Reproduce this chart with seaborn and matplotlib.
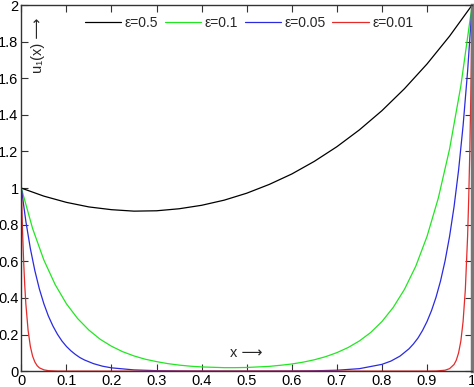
import matplotlib
matplotlib.use("Agg")
import matplotlib.pyplot as plt
import numpy as np
import pandas as pd
import seaborn as sns

# values
x_05 = [0.0, 0.05, 0.1, 0.15, 0.2, 0.25, 0.3, 0.35, 0.4, 0.45, 0.5,
        0.55, 0.6, 0.65, 0.7, 0.75, 0.8, 0.85, 0.9, 0.95, 1.0]
u_05 = [1.000, 0.956, 0.922, 0.897, 0.882, 0.874, 0.876, 0.887, 0.906, 0.934, 0.972,
        1.020, 1.077, 1.146, 1.226, 1.318, 1.423, 1.543, 1.678, 1.830, 2.000]

x_01 = [0.0, 0.025, 0.05, 0.075, 0.1, 0.125, 0.15, 0.175, 0.2, 0.225, 0.25,
        0.275, 0.3, 0.325, 0.35, 0.375, 0.4, 0.425, 0.45, 0.475, 0.5,
        0.525, 0.55, 0.575, 0.6, 0.625, 0.65, 0.675, 0.7, 0.725, 0.75,
        0.775, 0.8, 0.825, 0.85, 0.875, 0.9, 0.925, 0.95, 0.975, 1.0]
u_01 = [1.000, 0.779, 0.607, 0.473, 0.368, 0.287, 0.224, 0.174, 0.136, 0.106, 0.083,
        0.065, 0.052, 0.041, 0.033, 0.027, 0.023, 0.021, 0.019, 0.019, 0.020,
        0.023, 0.026, 0.032, 0.039, 0.049, 0.062, 0.079, 0.101, 0.129, 0.165,
        0.211, 0.271, 0.348, 0.447, 0.573, 0.736, 0.945, 1.213, 1.558, 2.000]

x_005 = [0.0, 0.01, 0.02, 0.03, 0.04, 0.05, 0.06, 0.07, 0.08, 0.09, 0.1, 0.11, 0.12,
         0.13, 0.14, 0.16, 0.18, 0.2,
         0.25, 0.3, 0.35, 0.4, 0.45, 0.5, 0.55, 0.6, 0.65, 0.7, 0.75,
         0.8, 0.82, 0.84, 0.86, 0.87, 0.88, 0.89, 0.9, 0.91, 0.92, 0.93, 0.94,
         0.95, 0.96, 0.97, 0.98, 0.99, 1.0]
u_005 = [1.000, 0.819, 0.670, 0.549, 0.449, 0.368, 0.301, 0.247, 0.202, 0.165, 0.135, 0.111, 0.091,
         0.074, 0.061, 0.041, 0.027, 0.018,
         0.0067, 0.0025, 0.0009, 0.0004, 0.0002, 0.0001, 0.0003, 0.0007, 0.0018, 0.0050, 0.0135,
         0.037, 0.055, 0.082, 0.122, 0.149, 0.181, 0.222, 0.271, 0.331, 0.404, 0.493, 0.602,
         0.736, 0.899, 1.098, 1.341, 1.638, 2.000]

x_001 = [0.0, 0.0025, 0.005, 0.0075, 0.01, 0.015, 0.02, 0.025, 0.03, 0.035, 0.04, 0.05,
         0.06, 0.08, 0.1, 0.5, 0.9, 0.92, 0.94, 0.95, 0.96, 0.965, 0.97, 0.975, 0.98,
         0.985, 0.99, 0.9925, 0.995, 0.9975, 1.0]
u_001 = [1.000, 0.779, 0.607, 0.472, 0.368, 0.223, 0.135, 0.082, 0.050, 0.030, 0.018, 0.007,
         0.0025, 0.0003, 0.0, 0.0, 0.0001, 0.0007, 0.0050, 0.0135, 0.0366, 0.060, 0.0996, 0.164, 0.271,
         0.446, 0.736, 0.945, 1.213, 1.558, 2.000]

labels = ["ε=0.5", "ε=0.1", "ε=0.05", "ε=0.01"]
colors = ["black", "#22e622", "#2a2ae0", "#e62a2a"]

x_ticks = [0, 0.1, 0.2, 0.3, 0.4, 0.5, 0.6, 0.7, 0.8, 0.9, 1]
y_ticks = [0, 0.2, 0.4, 0.6, 0.8, 1, 1.2, 1.4, 1.6, 1.8, 2]

frames = []
for xs, us, lab in zip([x_05, x_01, x_005, x_001], [u_05, u_01, u_005, u_001], labels):
    frames.append(pd.DataFrame({"x": xs, "u": us, "eps": lab}))
df = pd.concat(frames, ignore_index=True)

sns.set_style("ticks")
plt.rcParams["font.family"] = ["Liberation Sans", "DejaVu Sans"]

fig = plt.figure(figsize=(4.74, 3.87), dpi=100)
ax = fig.add_axes([0.045, 0.041, 0.951, 0.946])

sns.lineplot(data=df, x="x", y="u", hue="eps", hue_order=labels,
             palette=colors, estimator=None, sort=False, linewidth=0.9, ax=ax)

ax.set_xlim(0, 1)
ax.set_ylim(0, 2)
ax.set_xticks(x_ticks)
ax.set_xticklabels(["0", "0.1", "0.2", "0.3", "0.4", "0.5", "0.6", "0.7", "0.8", "0.9", "1"])
ax.set_yticks(y_ticks)
ax.set_yticklabels(["0", "0.2", "0.4", "0.6", "0.8", "1", "1.2", "1.4", "1.6", "1.8", "2"])
ax.tick_params(direction="in", length=5, width=0.8, top=True, right=True,
               labelsize=10.5, pad=2, colors="#333333", labelcolor="black")
ax.set_xlabel("")
ax.set_ylabel("")

for side in ["left", "bottom", "top"]:
    ax.spines[side].set_color("#333333")
    ax.spines[side].set_linewidth(1.0)
ax.spines["right"].set_color("#777777")
ax.spines["right"].set_linewidth(2.5)

ax.legend(loc="upper center", ncol=4, frameon=False, fontsize=10,
          handlelength=2.6, handletextpad=0.25, columnspacing=0.5,
          bbox_to_anchor=(0.505, 1.0), borderaxespad=0.4)

ax.text(0.5, 0.10, "x ⟶", ha="center", va="center", fontsize=10.5)
ax.text(0.038, 1.78, "u₁(x) ⟶", rotation=90, ha="center", va="center", fontsize=10.5)

fig.savefig("out.png", dpi=100)
